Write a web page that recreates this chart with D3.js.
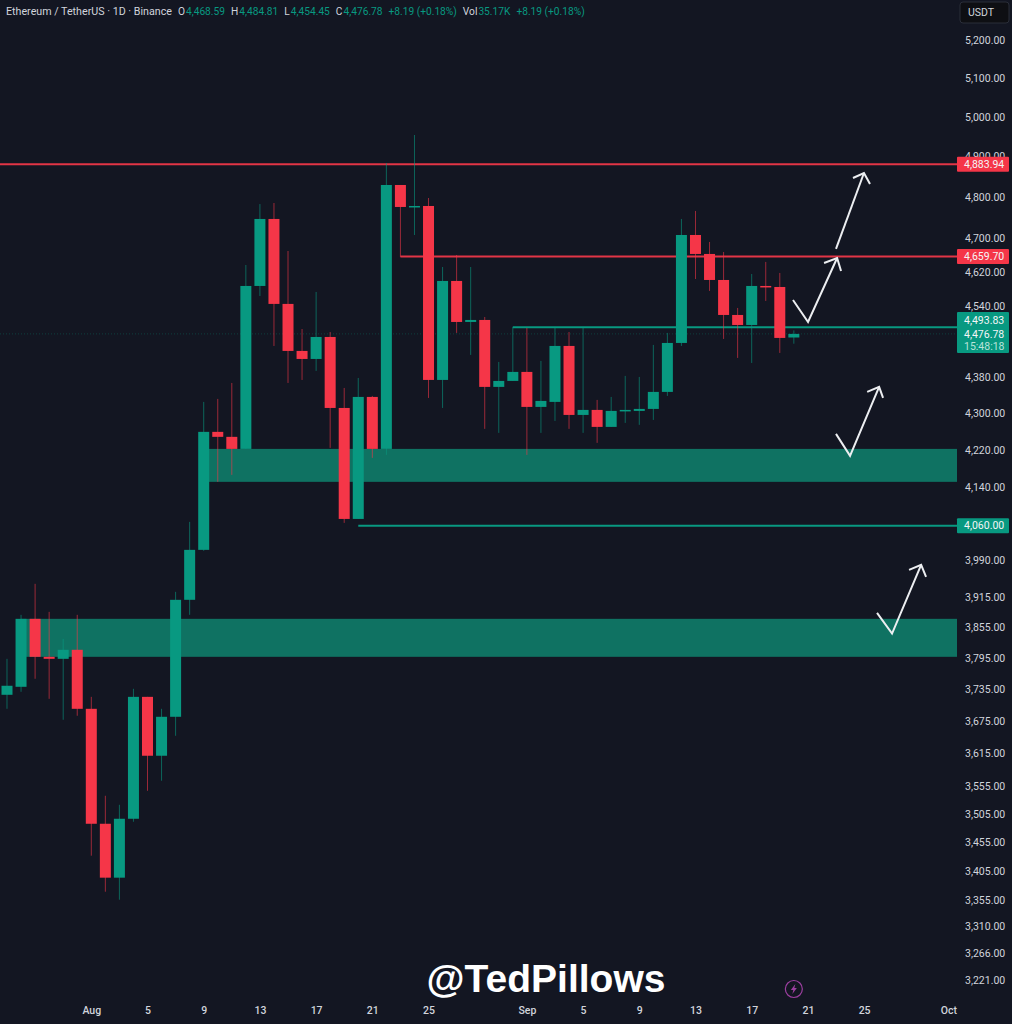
<!DOCTYPE html>
<html>
<head>
<meta charset="utf-8">
<title>ETHUSDT 1D</title>
<script src="https://cdn.jsdelivr.net/npm/d3@7/dist/d3.min.js"></script>
<style>
    html, body { margin: 0; padding: 0; background: #131622; overflow: hidden; }
    svg { display: block; }
    text { font-family: Roboto, sans-serif; }
</style>
</head>
<body>
<svg id="chart" width="1012" height="1024"></svg>
<script>
// daily candles, first one is 26 Jul 2025
const firstDay = Date.UTC(2025, 6, 26);
const opens = [3724.8, 3740, 3871.8, 3797.6, 3793.7, 3811.2, 3698.3, 3487.9, 3393.4, 3496.8, 3720.9, 3610.9, 3683.3, 3909.5, 4010.3,
    4258.8, 4248, 4222, 4587.5, 4746.8, 4545.7, 4438.1, 4420, 4469.8, 4311, 4074, 4335.3, 4222, 4829.7, 4775.9,
    4778.3, 4373, 4599.2, 4504.1, 4508.7, 4357.5, 4370.8, 4390.9, 4313.3, 4324.3, 4449.4, 4295.7, 4306.7, 4269.6, 4304.5,
    4304.5, 4308.9, 4346.4, 4456.2, 4708.2, 4662.9, 4601.5, 4520.2, 4497.2, 4587.5, 4585.1, 4468.59];
const highs = [3793.7, 3879.7, 3941.5, 3885.6, 3832.6, 3879.7, 3720.9, 3538, 3521.8, 3736.2, 3720.9, 3698.3, 3925.4, 4067.9, 4324.3,
    4330.9, 4366.3, 4636.8, 4783, 4785.6, 4670, 4488, 4573.5, 4481.2, 4355.2, 4377.4, 4337.5, 4884.1, 4829.7, 4954.3,
    4797.8, 4632, 4660.5, 4632, 4515.6, 4413.3, 4492.7, 4490.4, 4415.6, 4490.4, 4481.2, 4490.4, 4328.7, 4335.3, 4382,
    4379.7, 4451.7, 4479, 4746.8, 4766.2, 4691.5, 4667.6, 4536.4, 4615.6, 4644, 4618, 4484.81];
const lows = [3698.3, 3730.5, 3755.3, 3717.2, 3677.7, 3685.2, 3431.6, 3369.2, 3355.5, 3491.5, 3547, 3565.2, 3647.8, 3879.7, 4008.3,
    4151.7, 4166.5, 4222, 4564.1, 4449.4, 4366.3, 4373, 4393.2, 4224.2, 4065.8, 4074, 4202.7, 4209.1, 4655.8, 4708.2,
    4333.1, 4311, 4479, 4429.1, 4265.3, 4256.6, 4370.8, 4209.1, 4256.6, 4282.6, 4265.3, 4256.6, 4235, 4269.6, 4278.3,
    4274, 4284.8, 4337.5, 4449.4, 4603.8, 4575.9, 4465.3, 4422.3, 4411, 4552.6, 4433.6, 4454.45];
const closes = [3742, 3871.8, 3797.6, 3793.7, 3811.2, 3698.3, 3487.9, 3393.4, 3496.8, 3720.9, 3610.9, 3683.3, 3909.5, 4010.3, 4258.8,
    4248, 4222, 4587.5, 4746.8, 4545.7, 4438.1, 4420, 4469.8, 4311, 4074, 4335.3, 4222, 4829.7, 4775.9, 4778.3,
    4373, 4599.2, 4504.1, 4508.7, 4357.5, 4370.8, 4390.9, 4313.3, 4326.5, 4449.4, 4295.7, 4306.7, 4269.6, 4304.5, 4306.7,
    4308.9, 4346.4, 4456.2, 4708.2, 4662.9, 4601.5, 4520.2, 4497.2, 4587.5, 4585.1, 4467.6, 4476.78];

const priceTicks = [5200, 5100, 5000, 4900, 4800, 4700, 4620, 4540, 4380, 4300, 4220, 4140, 3990, 3915, 3855, 3795,
    3735, 3675, 3615, 3555, 3505, 3455, 3405, 3355, 3310, 3266, 3221];
const dateTicks = ["2025-08-01", "2025-08-05", "2025-08-09", "2025-08-13", "2025-08-17", "2025-08-21", "2025-08-25",
    "2025-09-01", "2025-09-05", "2025-09-09", "2025-09-13", "2025-09-17", "2025-09-21", "2025-09-25", "2025-10-01"];
const dateLabels = ["Aug", "5", "9", "13", "17", "21", "25", "Sep", "5", "9", "13", "17", "21", "25", "Oct"];

// support zones [low, high, first day index from firstDay]
const zones = [[3797.6, 3871.8, 1], [4151.7, 4222, 14]];
// levels [price as drawn, first day index, colour, tag text]
const levels = [[4881.2, -6, "red", "4,883.94"], [4657, 28, "red", "4,659.70"], [4491.7, 36, "green", null], [4060, 25, "green", "4,060.00"]];
// hand drawn arrows, [day index, price]
const arrows = [
    { line: [[55.94, 4554.9], [57.01, 4504.1], [59.08, 4653.4]], head: [[58.15, 4641.6], [59.08, 4653.4], [59.36, 4622.7]] },
    { line: [[59, 4674.8], [60.99, 4859.3]], head: [[60.21, 4847], [60.99, 4859.3], [61.42, 4832.2]] },
    { line: [[59, 4254.4], [60, 4207], [62.07, 4357.5]], head: [[61.22, 4346.4], [62.07, 4357.5], [62.35, 4333.1]] },
    { line: [[61.92, 3883.7], [62.99, 3842.8], [65.06, 3979.8]], head: [[64.2, 3969.7], [65.06, 3979.8], [65.41, 3955.6]] }
];

const headerParts = [
    ["Ethereum / TetherUS · 1D · Binance", "t"], ["O", "t"], ["4,468.59", "v"], ["H", "t"], ["4,484.81", "v"],
    ["L", "t"], ["4,454.45", "v"], ["C", "t"], ["4,476.78", "v"], ["+8.19 (+0.18%)", "v"], ["Vol", "t"], ["35.17K", "v"],
    ["+8.19 (+0.18%)", "v"]
];

const UP = "#089981", DOWN = "#f53648", LEVEL_RED = "#e23546", TEXT = "#d1d4dc";
const colors = { red: LEVEL_RED, green: UP };

const svg = d3.select("#chart");
const dayDate = i => new Date(firstDay + i * 864e5);

const x = d3.scaleUtc()
    .domain([new Date("2025-08-01T00:00:00Z"), new Date("2025-10-01T00:00:00Z")])
    .range([91.3, 948.4]);
const y = d3.scaleLog().domain([3221, 5200]).range([980, 40]);
const plotRight = 957;

// zones go under everything
svg.append("g").selectAll("rect").data(zones).join("rect")
    .attr("x", d => x(dayDate(d[2])))
    .attr("y", d => y(d[1]))
    .attr("width", d => plotRight - x(dayDate(d[2])))
    .attr("height", d => y(d[0]) - y(d[1]))
    .attr("fill", "#0f7262");

// last price dotted line
svg.append("line")
    .attr("x1", 0).attr("x2", plotRight)
    .attr("y1", y(closes[closes.length - 1])).attr("y2", y(closes[closes.length - 1]))
    .attr("stroke", UP).attr("stroke-opacity", 0.3).attr("stroke-dasharray", "1,2");

svg.append("g").selectAll("line").data(levels).join("line")
    .attr("x1", d => d[1] < 0 ? 0 : x(dayDate(d[1])))
    .attr("x2", plotRight)
    .attr("y1", d => y(d[0]))
    .attr("y2", d => y(d[0]))
    .attr("stroke", d => colors[d[2]])
    .attr("stroke-width", 2);

const candles = svg.append("g").selectAll("g").data(opens).join("g")
    .attr("transform", (d, i) => `translate(${x(dayDate(i))},0)`);

candles.append("line")
    .attr("y1", (d, i) => y(highs[i]))
    .attr("y2", (d, i) => y(lows[i]))
    .attr("stroke", (d, i) => closes[i] >= opens[i] ? UP : DOWN)
    .attr("stroke-opacity", 0.6);

candles.append("rect")
    .attr("x", -5.5)
    .attr("width", 11)
    .attr("y", (d, i) => y(Math.max(opens[i], closes[i])))
    .attr("height", (d, i) => Math.max(1.5, Math.abs(y(opens[i]) - y(closes[i]))))
    .attr("fill", (d, i) => closes[i] >= opens[i] ? UP : DOWN);

// arrows on top of the candles
const arrowLine = d3.line().x(d => x(dayDate(d[0]))).y(d => y(d[1]));
const arrowGroup = svg.append("g").attr("fill", "none").attr("stroke", "#eceef1").attr("stroke-width", 2);
arrows.forEach(a => {
    arrowGroup.append("path").attr("d", arrowLine(a.line));
    arrowGroup.append("path").attr("d", arrowLine(a.head));
});

// price axis
const yAxis = svg.append("g")
    .attr("transform", `translate(${plotRight + 7},0)`)
    .call(d3.axisRight(y).tickValues(priceTicks).tickSize(0).tickPadding(1).tickFormat(d3.format(",.2f")));
yAxis.select(".domain").remove();
yAxis.selectAll("text").attr("fill", TEXT).attr("font-size", 10.5).attr("font-family", "Roboto, sans-serif");

// date axis
const xAxis = svg.append("g")
    .attr("transform", "translate(0,1003)")
    .call(d3.axisBottom(x)
        .tickValues(dateTicks.map(d => new Date(d + "T00:00:00Z")))
        .tickSize(0).tickPadding(4)
        .tickFormat((d, i) => dateLabels[i]));
xAxis.select(".domain").remove();
xAxis.selectAll("text").attr("fill", TEXT).attr("font-size", 10.5).attr("font-weight", 500).attr("font-family", "Roboto, sans-serif");

// price tags
levels.filter(d => d[3]).forEach(d => {
    const color = d[2] === "red" ? DOWN : UP;
    svg.append("rect")
        .attr("x", plotRight).attr("y", y(d[0]) - 7.5)
        .attr("width", 52).attr("height", 15).attr("rx", 1)
        .attr("fill", color);
    svg.append("text")
        .attr("x", plotRight + 7).attr("y", y(d[0]) + 3.8)
        .attr("fill", "#f4f5f7").attr("font-size", 10.5)
        .text(d[3]);
});

svg.append("rect")
    .attr("x", plotRight).attr("y", y(4493.83) - 14.5)
    .attr("width", 52).attr("height", 41).attr("rx", 1)
    .attr("fill", UP);
[["4,493.83", y(4493.83) - 2.5, "#f4f5f7"], ["4,476.78", y(4476.78) + 4, "#f4f5f7"], ["15:48:18", y(4476.78) + 16, "#b9e3da"]].forEach(t => {
    svg.append("text")
        .attr("x", plotRight + 7).attr("y", t[1])
        .attr("fill", t[2]).attr("font-size", 10.5)
        .text(t[0]);
});

// currency button
svg.append("rect")
    .attr("x", 960).attr("y", 2).attr("width", 49).attr("height", 21).attr("rx", 3)
    .attr("fill", "#0e0f13").attr("stroke", "#2a2e39");
svg.append("text")
    .attr("x", 968).attr("y", 16)
    .attr("fill", TEXT).attr("font-size", 10.5)
    .text("USDT");

// header line
const header = svg.append("text").attr("x", 6).attr("y", 15).attr("font-size", 10.2);
header.selectAll("tspan").data(headerParts).join("tspan")
    .attr("dx", (d, i) => {
        if (i === 0) return 0;
        if (d[1] === "t") return 6;
        return headerParts[i - 1][1] === "t" ? 1 : 6;
    })
    .attr("font-size", (d, i) => i === 0 ? 10.7 : 10.2)
    .attr("fill", d => d[1] === "t" ? TEXT : UP)
    .text(d => d[0]);

// watermark and lightning badge
svg.append("text")
    .attr("x", 546).attr("y", 992)
    .attr("text-anchor", "middle")
    .attr("fill", "#ffffff").attr("font-size", 39).attr("font-weight", 700)
    .style("font-family", "'Liberation Sans', sans-serif")
    .text("@TedPillows");

const badge = svg.append("g").attr("transform", `translate(${x(dayDate(56))},989)`);
badge.append("circle").attr("r", 8.5).attr("fill", "none").attr("stroke", "#9c3fa0").attr("stroke-width", 1.2);
badge.append("path").attr("d", "M1.5,-5 L-3,1 L-0.5,1 L-1.5,5 L3,-1 L0.5,-1 Z").attr("fill", "#9c3fa0");
</script>
</body>
</html>
